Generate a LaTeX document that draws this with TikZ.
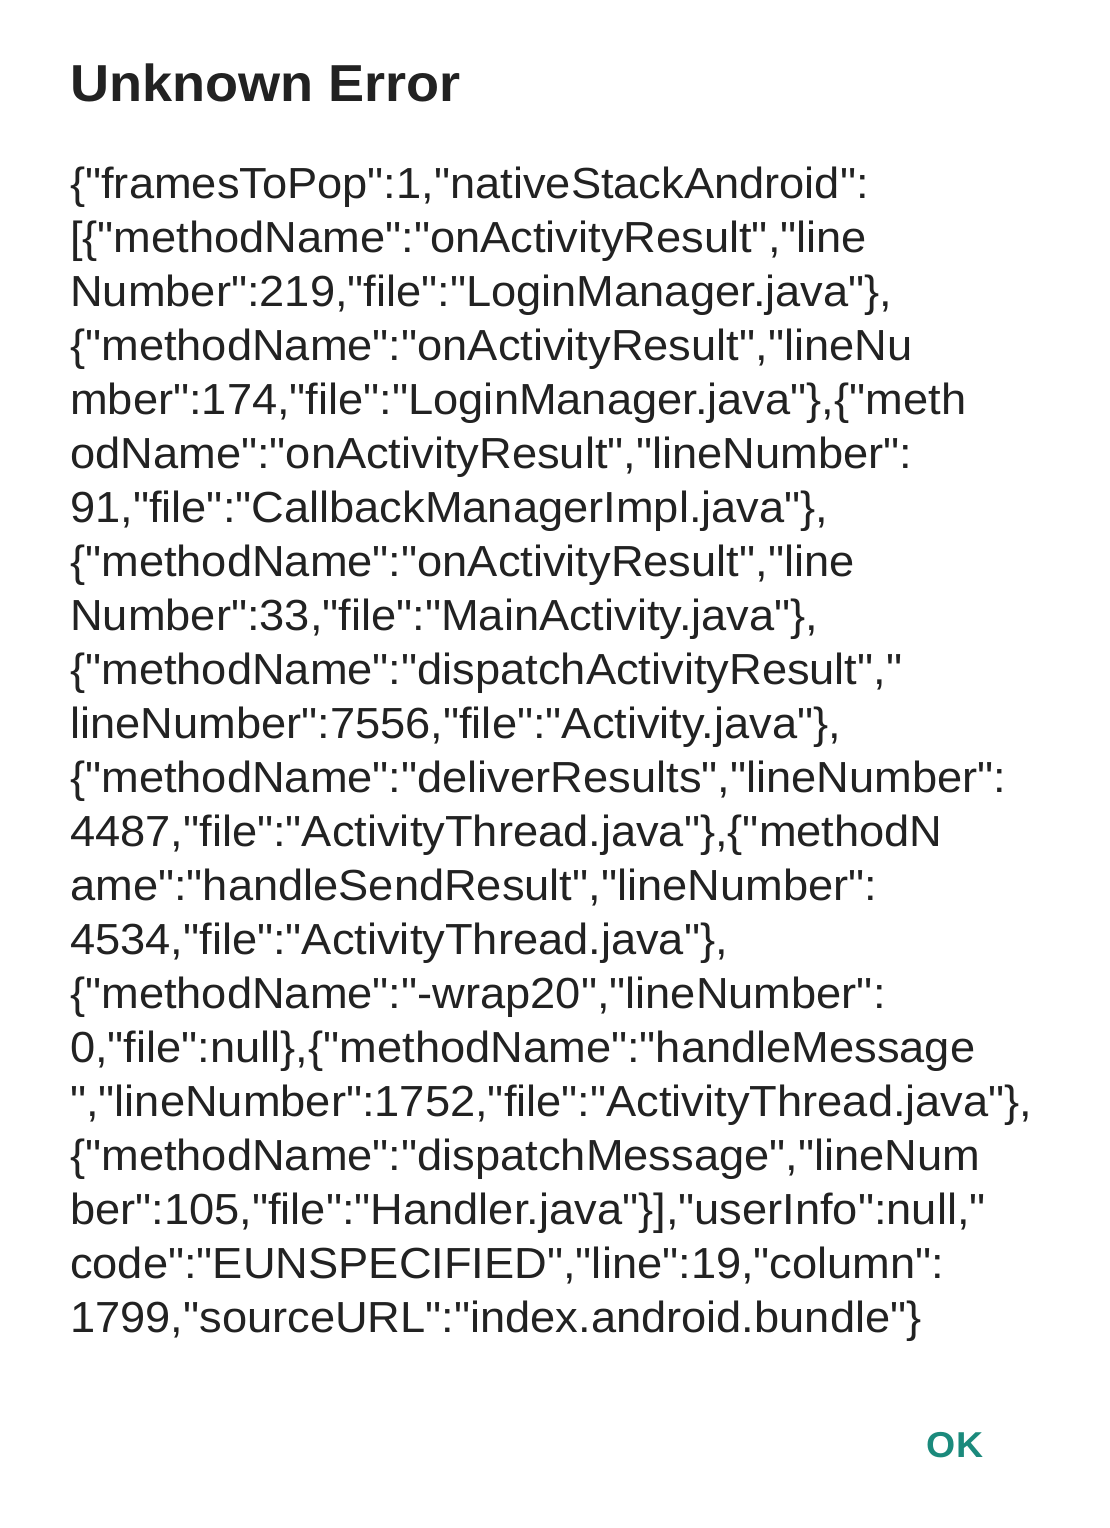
\documentclass[tikz,border=0pt]{standalone}
\usepackage{fontspec}
\setmainfont{Liberation Sans}[Ligatures=TeXOff,FakeStretch=1.04]
\definecolor{okc}{HTML}{1B8A7C}
\definecolor{txt}{HTML}{222222}
\begin{document}
\begin{tikzpicture}[x=1pt,y=-1pt,
  ln/.style={anchor=base west,inner sep=0pt,text=txt,font=\fontsize{43.5}{44}\selectfont}]
\useasboundingbox[fill=white] (0,0) rectangle (1110,1528);
\node[anchor=base west,inner sep=0pt,text=txt,font=\fontsize{52}{52}\selectfont\bfseries] (title) at (70,101) {Unknown Error};
\node[ln] (l1) at (70,198) {\{"framesToPop":1,"nativeStackAndroid":};
\node[ln] (l2) at (70,252) {[\{"methodName":"onActivityResult","line};
\node[ln] (l3) at (70,306) {Number":219,"file":"LoginManager.java"\},};
\node[ln] (l4) at (70,360) {\{"methodName":"onActivityResult","lineNu};
\node[ln] (l5) at (70,414) {mber":174,"file":"LoginManager.java"\},\{"meth};
\node[ln] (l6) at (70,468) {odName":"onActivityResult","lineNumber":};
\node[ln] (l7) at (70,522) {91,"file":"CallbackManagerImpl.java"\},};
\node[ln] (l8) at (70,576) {\{"methodName":"onActivityResult","line};
\node[ln] (l9) at (70,630) {Number":33,"file":"MainActivity.java"\},};
\node[ln] (l10) at (70,684) {\{"methodName":"dispatchActivityResult","};
\node[ln] (l11) at (70,738) {lineNumber":7556,"file":"Activity.java"\},};
\node[ln] (l12) at (70,792) {\{"methodName":"deliverResults","lineNumber":};
\node[ln] (l13) at (70,846) {4487,"file":"ActivityThread.java"\},\{"methodN};
\node[ln] (l14) at (70,900) {ame":"handleSendResult","lineNumber":};
\node[ln] (l15) at (70,954) {4534,"file":"ActivityThread.java"\},};
\node[ln] (l16) at (70,1008) {\{"methodName":"-wrap20","lineNumber":};
\node[ln] (l17) at (70,1062) {0,"file":null\},\{"methodName":"handleMessage};
\node[ln] (l18) at (70,1116) {","lineNumber":1752,"file":"ActivityThread.java"\},};
\node[ln] (l19) at (70,1170) {\{"methodName":"dispatchMessage","lineNum};
\node[ln] (l20) at (70,1224) {ber":105,"file":"Handler.java"\}],"userInfo":null,"};
\node[ln] (l21) at (70,1278) {code":"EUNSPECIFIED","line":19,"column":};
\node[ln] (l22) at (70,1332) {1799,"sourceURL":"index.android.bundle"\}};
\node[inner sep=0pt,text=okc,font=\fontsize{36}{36}\selectfont\bfseries] (ok) at (955,1445) {OK};
\end{tikzpicture}
\end{document}
